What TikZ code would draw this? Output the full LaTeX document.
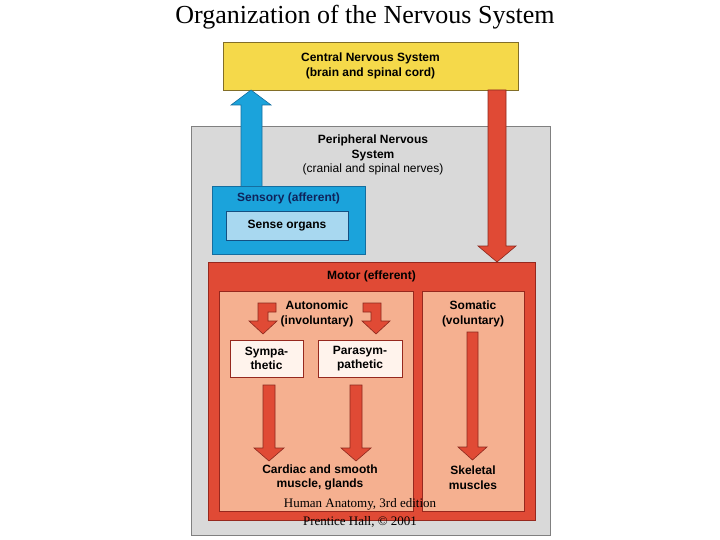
\documentclass[tikz,border=0pt]{standalone}
\usepackage{fontspec}
\setmainfont{Liberation Serif}
\newfontfamily\sansb{Liberation Sans}
\begin{document}
\begin{tikzpicture}[x=1pt,y=-1pt,
  lbl/.style={font=\sansb\bfseries\fontsize{12}{14.5}\selectfont,align=center,inner sep=0},
  redarr/.style={fill={rgb,255:red,224;green,74;blue,53},draw={rgb,255:red,140;green,40;blue,30},line width=0.6},
  bluearr/.style={fill={rgb,255:red,27;green,163;blue,219},draw={rgb,255:red,20;green,110;blue,160},line width=0.6}]
\useasboundingbox (0,0) rectangle (720,540);
\node[font=\fontsize{26}{30}\selectfont] (title) at (365,17) {Organization of the Nervous System};
% CNS
\node[draw={rgb,255:red,130;green,110;blue,40},fill={rgb,255:red,245;green,217;blue,74},minimum width=295,minimum height=48,inner sep=0] (cns) at (370.5,66) {};
\node[lbl] (cnst) at (370.5,66) {Central Nervous System\\(brain and spinal cord)};
% PNS
\node[draw=gray,fill={rgb,255:red,217;green,217;blue,217},minimum width=359,minimum height=409,inner sep=0] (pns) at (370.5,330.5) {};
\node[lbl] (pnst) at (373,155) {Peripheral Nervous\\System\\{\mdseries(cranial and spinal nerves)}};
% arrows CNS<->PNS
\draw[bluearr] (241,187) -- (241,105) -- (231,105) -- (251,90) -- (271,105) -- (262,105) -- (262,187) -- cycle;
\draw[redarr] (488,90) -- (488,246) -- (478,246) -- (497,262) -- (516,246) -- (506,246) -- (506,90) -- cycle;
% Sensory
\node[draw={rgb,255:red,20;green,110;blue,160},fill={rgb,255:red,27;green,163;blue,219},minimum width=153,minimum height=68,inner sep=0] (sens) at (288.5,220) {};
\node[lbl,text={rgb,255:red,15;green,35;blue,90}] (senst) at (288.5,198) {Sensory (afferent)};
\node[draw={rgb,255:red,20;green,80;blue,130},fill={rgb,255:red,168;green,216;blue,240},minimum width=122,minimum height=29,inner sep=0,font=\sansb\bfseries\fontsize{12}{14}\selectfont] (organs) at (287,225.5) {Sense organs};
% Motor
\node[draw={rgb,255:red,150;green,40;blue,30},fill={rgb,255:red,224;green,74;blue,53},minimum width=327,minimum height=258,inner sep=0] (motor) at (371.5,391) {};
\node[lbl] (motort) at (371.5,276) {Motor (efferent)};
\node[draw={rgb,255:red,150;green,40;blue,30},fill={rgb,255:red,245;green,176;blue,144},minimum width=194,minimum height=220,inner sep=0] (auto) at (316,401) {};
\node[draw={rgb,255:red,150;green,40;blue,30},fill={rgb,255:red,245;green,176;blue,144},minimum width=102,minimum height=220,inner sep=0] (soma) at (473,401) {};
\node[lbl] (autot) at (317,314) {Autonomic\\(involuntary)};
\node[lbl] (somat) at (473,314) {Somatic\\(voluntary)};
% bent arrows
\draw[redarr] (276,303) -- (258,303) -- (258,321) -- (249,321) -- (263,334) -- (277,321) -- (268,321) -- (268,312) -- (276,312) -- cycle;
\draw[redarr] (363,303) -- (381,303) -- (381,321) -- (390,321) -- (376,334) -- (362,321) -- (371,321) -- (371,312) -- (363,312) -- cycle;
\node[draw={rgb,255:red,150;green,40;blue,30},fill={rgb,255:red,255;green,243;blue,236},minimum width=73,minimum height=37,inner sep=0] (symp) at (266.5,358.5) {};
\node[lbl] (sympt) at (266.5,358.5) {Sympa-\\thetic};
\node[draw={rgb,255:red,150;green,40;blue,30},fill={rgb,255:red,255;green,243;blue,236},minimum width=84,minimum height=37,inner sep=0] (para) at (360,358.5) {};
\node[lbl] (parat) at (360,358.5) {Parasym-\\pathetic};
% down arrows
\draw[redarr] (263,385) -- (263,448) -- (254,448) -- (269,461) -- (284,448) -- (275,448) -- (275,385) -- cycle;
\draw[redarr] (350,385) -- (350,448) -- (341,448) -- (356,461) -- (371,448) -- (362,448) -- (362,385) -- cycle;
\draw[redarr] (467,332) -- (467,447) -- (458,447) -- (472.5,460) -- (487,447) -- (478,447) -- (478,332) -- cycle;
\node[lbl] (card) at (320,477.5) {Cardiac and smooth\\muscle, glands};
\node[lbl] (skel) at (473,477.5) {Skeletal\\muscles};
\node[font=\fontsize{13}{18}\selectfont,align=center,inner sep=0] (foot) at (360,513) {Human Anatomy, 3rd edition\\Prentice Hall, \copyright\ 2001};
\end{tikzpicture}
\end{document}
